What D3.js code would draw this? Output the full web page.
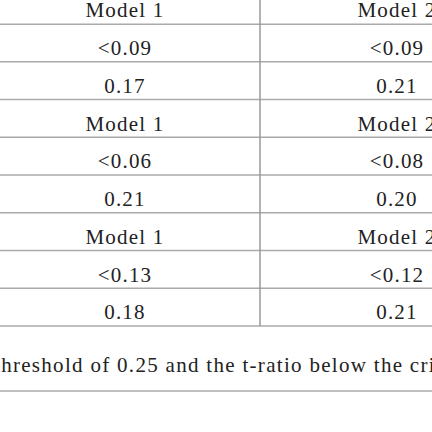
<!DOCTYPE html>
<html><head><meta charset="utf-8">
<script src="https://cdn.jsdelivr.net/npm/d3@7"></script>
<style>body{margin:0;background:#fff}svg{display:block}</style>
</head><body><svg id="c" width="432" height="432"></svg>
<script>
const col1 = ["Model 1","<0.09","0.17","Model 1","<0.06","0.21","Model 1","<0.13","0.18"];
const col2 = ["Model 2","<0.09","0.21","Model 2","<0.08","0.20","Model 2","<0.12","0.21"];
const columns = ["c1","c2"];
const caption = "threshold of 0.25 and the t-ratio below the critical";

const svg = d3.select("#c");
const y = d3.scaleBand().domain(d3.range(col1.length)).range([-13.6, 326]);
const x = d3.scalePoint().domain(columns).range([125, 397]);
const font = "'Liberation Serif', serif";

svg.selectAll("line.h").data(d3.range(1, col1.length + 1)).join("line")
  .attr("x1", 0).attr("x2", 432)
  .attr("y1", d => d === col1.length ? 326 : y(d)).attr("y2", d => d === col1.length ? 326 : y(d))
  .attr("stroke", "#aaa").attr("stroke-width", 1.5);
svg.append("line").attr("x1", 260).attr("x2", 260).attr("y1", 0).attr("y2", 326)
  .attr("stroke", "#999").attr("stroke-width", 1.5);

[col1, col2].forEach((col, ci) => {
  svg.selectAll("text.c" + ci).data(col).join("text")
    .attr("x", x(columns[ci])).attr("y", (d, i) => y(i) + 31)
    .attr("text-anchor", "middle").attr("font-family", font).attr("font-size", 21)
    .attr("letter-spacing", 1.2)
    .attr("fill", "#222").text(d => d);
});

svg.append("text").attr("x", -6).attr("y", 372).attr("font-family", font)
  .attr("font-size", 21).attr("letter-spacing", 1.3).attr("fill", "#222").text(caption);
svg.append("line").attr("x1", 0).attr("x2", 432).attr("y1", 391).attr("y2", 391)
  .attr("stroke", "#aaa").attr("stroke-width", 1.5);
</script></body></html>
